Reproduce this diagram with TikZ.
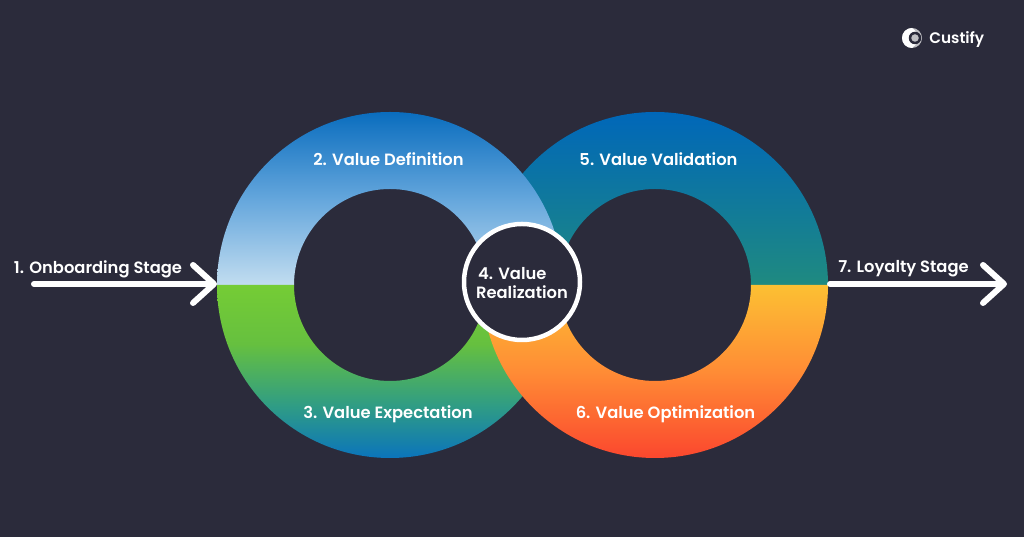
\documentclass[tikz,border=0pt]{standalone}
\usepackage{fontspec}
\setmainfont{Poppins SemiBold}
\usetikzlibrary{arrows.meta}

\definecolor{backdrop}{HTML}{2B2B3B}
\definecolor{blueA}{HTML}{0A6DBE}
\definecolor{blueB}{HTML}{64A6DC}
\definecolor{blueC}{HTML}{C2DDF0}
\definecolor{greenA}{HTML}{75CC35}
\definecolor{greenB}{HTML}{66C03F}
\definecolor{greenC}{HTML}{2F9C85}
\definecolor{greenD}{HTML}{0B74BB}
\definecolor{tealA}{HTML}{0067B9}
\definecolor{tealB}{HTML}{1F8A80}
\definecolor{orangeA}{HTML}{FCC033}
\definecolor{orangeB}{HTML}{FF8C35}
\definecolor{orangeC}{HTML}{FB472E}

\pgfdeclareverticalshading{definitionshade}{100bp}{color(0bp)=(blueC); color(25bp)=(blueC); color(50bp)=(blueB); color(75bp)=(blueA); color(100bp)=(blueA)}
\pgfdeclareverticalshading{expectationshade}{100bp}{color(0bp)=(greenD); color(25bp)=(greenD); color(40bp)=(greenC); color(58bp)=(greenB); color(75bp)=(greenA); color(100bp)=(greenA)}
\pgfdeclareverticalshading{validationshade}{100bp}{color(0bp)=(tealB); color(25bp)=(tealB); color(75bp)=(tealA); color(100bp)=(tealA)}
\pgfdeclareverticalshading{optimizationshade}{100bp}{color(0bp)=(orangeC); color(25bp)=(orangeC); color(50bp)=(orangeB); color(75bp)=(orangeA); color(100bp)=(orangeA)}

\tikzset{
    stagelabel/.style={text=white, font=\fontsize{9.3pt}{11pt}\selectfont, inner sep=0pt},
    flowarrow/.style={white, line width=0.12cm, line cap=round,
        -{Straight Barb[round, length=0.42cm, width=0.76cm]}},
}

\begin{document}
\begin{tikzpicture}
    \useasboundingbox (0, 0) rectangle (20.48, 10.74);
    \fill[backdrop] (0, 0) rectangle (20.48, 10.74);

    \shade[shading=validationshade]
        (9.64, 5.04) arc[start angle=180, end angle=0, radius=3.46]
        -- (15.02, 5.04) arc[start angle=0, end angle=180, radius=1.92] -- cycle;
    \shade[shading=definitionshade]
        (4.34, 5.04) arc[start angle=180, end angle=0, radius=3.46]
        -- (9.72, 5.04) arc[start angle=0, end angle=180, radius=1.92] -- cycle;
    \shade[shading=expectationshade]
        (4.34, 5.04) arc[start angle=180, end angle=360, radius=3.46]
        -- (9.72, 5.04) arc[start angle=360, end angle=180, radius=1.92] -- cycle;
    \shade[shading=optimizationshade]
        (9.64, 5.04) arc[start angle=180, end angle=360, radius=3.46]
        -- (15.02, 5.04) arc[start angle=360, end angle=180, radius=1.92] -- cycle;

    \node[circle, draw=white, line width=0.09cm, fill=backdrop, minimum size=2.32cm,
        inner sep=0pt] (realization) at (10.44, 5.1) {};

    \coordinate (onboardstart) at (0.68, 5.06);
    \coordinate (onboardend) at (4.34, 5.06);
    \coordinate (loyaltystart) at (16.6, 5.06);
    \coordinate (loyaltyend) at (20.14, 5.06);
    \draw[flowarrow] (onboardstart) -- (onboardend);
    \draw[flowarrow] (loyaltystart) -- (loyaltyend);

    \node[stagelabel] (onboarding) at (1.96, 5.36) {1. Onboarding Stage};
    \node[stagelabel] (definition) at (7.77, 7.56) {2. Value Definition};
    \node[stagelabel] (expectation) at (7.76, 2.46) {3. Value Expectation};
    \node[stagelabel, align=left] (realizationtext) at (10.44, 5.08)
        {\hspace{0.04cm}4. Value\\Realization};
    \node[stagelabel] (validation) at (13.17, 7.56) {5. Value Validation};
    \node[stagelabel] (optimization) at (13.31, 2.46) {6. Value Optimization};
    \node[stagelabel] (loyalty) at (18.07, 5.36) {7. Loyalty Stage};

    % logo
    \fill[white!70!backdrop] (18.24, 9.98) circle (0.2);
    \fill[white] (18.24, 10.18) arc[start angle=90, end angle=270, radius=0.2]
        arc[start angle=-60, end angle=60, radius=0.23] -- cycle;
    \fill[backdrop] (18.3, 9.98) circle (0.125);
    \fill[white!70!backdrop] (18.3, 9.98) circle (0.075);
    \node[text=white, font=\fontsize{8.7pt}{10pt}\selectfont, inner sep=0pt, anchor=west]
        (brand) at (18.58, 9.94) {Custify};
\end{tikzpicture}
\end{document}
